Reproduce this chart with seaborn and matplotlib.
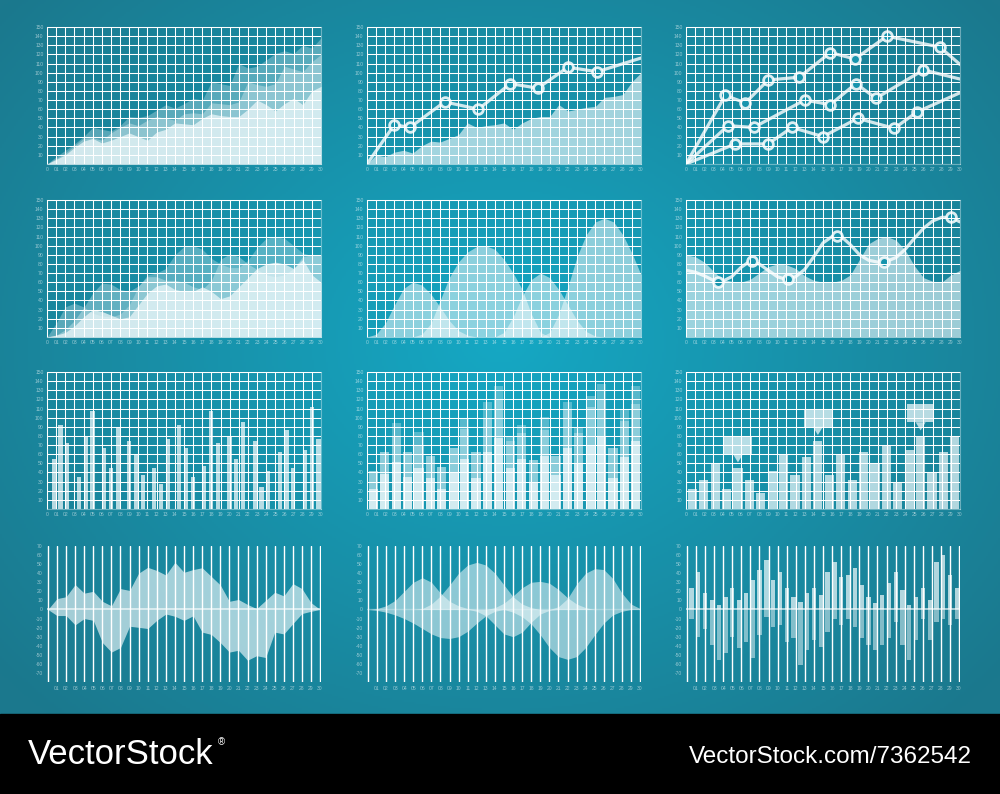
import numpy as np
import seaborn as sns
import matplotlib.pyplot as plt
from matplotlib.patches import Rectangle, Polygon

sns.set_style("white")
plt.rcParams['font.family'] = ['Liberation Sans', 'DejaVu Sans']

W, H = 1000, 794
x31 = np.arange(31)

# ---------------- data ----------------
# panel 1: three overlapping jagged areas
p1_back = [0, 8, 15, 22, 30, 40, 38, 36, 42, 52, 51, 53, 59, 65, 61, 66, 72, 70, 90, 88, 86,
           110, 105, 107, 114, 121, 124, 121, 130, 127, 138]
p1_mid = [0, 6, 12, 20, 28, 29, 26, 34, 40, 45, 42, 48, 52, 50, 48, 55, 56, 55, 67, 66, 65,
          68, 90, 87, 85, 88, 107, 104, 101, 112, 120]
p1_front = [0, 5, 10, 18, 25, 28, 23, 26, 30, 34, 30, 26, 35, 38, 45, 44, 43, 50, 55, 53, 52,
            52, 60, 70, 65, 58, 66, 72, 65, 80, 85]

# panel 2: area + marked line
p2_area = [0, 10, 8, 13, 15, 12, 20, 25, 24, 28, 32, 45, 40, 42, 43, 45, 38, 45, 50, 52, 52,
           65, 58, 60, 62, 63, 73, 74, 76, 90, 100]
p2_line_x = [0, 3, 4.7, 8.5, 12.2, 15.7, 18.7, 22, 25.2, 30]
p2_line_y = [0, 43, 40, 68, 60, 88, 83, 106, 101, 116]

# panel 3: three marked lines from the origin
p3_top_x = [0, 4.3, 6.5, 9.0, 12.4, 15.8, 18.5, 22.0, 27.8, 30]
p3_top_y = [0, 75, 67, 92, 95, 122, 115, 140, 128, 109]
p3_mid_x = [0, 4.6, 7.4, 13.0, 15.8, 18.6, 20.8, 26.0, 30]
p3_mid_y = [0, 42, 40, 70, 65, 88, 72, 103, 93]
p3_low_x = [0, 5.4, 9.0, 11.6, 15.0, 18.8, 22.8, 25.3, 30]
p3_low_y = [0, 22, 22, 40, 30, 50, 39, 57, 78]

# panel 4: three overlapping smooth areas
p4_back = [0, 15, 33, 37, 33, 26, 23, 22, 25, 35, 55, 68, 70, 75, 90, 99, 100, 96, 86, 80, 76,
           76, 84, 98, 108, 110, 108, 100, 92, 89, 90]
p4_mid = [0, 2, 8, 18, 32, 48, 59, 58, 52, 50, 56, 66, 66, 62, 62, 60, 55, 52, 62, 85, 91,
          88, 80, 74, 68, 66, 68, 75, 88, 90, 90]
p4_front = [0, 2, 5, 12, 22, 30, 28, 24, 20, 22, 35, 48, 56, 58, 52, 50, 50, 55, 50, 42, 45,
            55, 65, 75, 80, 82, 80, 75, 85, 68, 60]

# panel 5: four bell humps
p5_hump1 = [0, 3, 15, 35, 53, 60, 57, 47, 33, 18, 7, 2, 0] + [0] * 18
p5_hump2 = [0] * 5 + [0, 3, 15, 40, 65, 82, 93, 99, 100, 96, 85, 70, 52, 25, 5, 0] + [0] * 10
p5_hump3 = [0] * 14 + [0, 5, 22, 45, 63, 70, 65, 52, 35, 18, 6, 1, 0] + [0] * 4
p5_hump4 = [0] * 19 + [0, 5, 25, 55, 88, 112, 126, 130, 126, 112, 92, 68]

# panel 6: wavy area + marked wavy line
p6_area = [90, 88, 82, 72, 63, 61, 60, 63, 70, 77, 80, 79, 75, 67, 62, 60, 60, 62, 68, 85, 102,
           108, 110, 106, 95, 78, 65, 61, 60, 68, 73]
p6_line = [73, 71, 67, 62, 61, 66, 76, 83, 80, 73, 66, 63, 66, 74, 88, 103, 110, 110, 101, 90, 84,
           82, 83, 87, 96, 108, 119, 127, 131, 131, 126]
p6_mark_x = [3.5, 7.2, 11.2, 16.5, 21.7, 29]
p6_mark_y = [60, 83, 63, 111, 82, 131]

# panel 7: thin bars in groups of three
p7_bars = [55, 92, 72, 35, 80, 107, 67, 45, 90, 75, 60, 37, 45, 27, 77, 92, 67, 35, 47, 107, 72,
           80, 55, 95, 75, 24, 42, 62, 87, 45, 65, 112, 77]

# panel 8: three-tone overlapping bars
p8_hi = [42, 62, 94, 62, 84, 58, 46, 67, 100, 62, 117, 135, 80, 92, 54, 101, 58, 117, 90, 124,
         137, 67, 110, 135]
p8_mid = [42, 62, 80, 62, 70, 58, 46, 67, 88, 62, 100, 120, 75, 83, 54, 87, 58, 108, 83, 112,
          120, 67, 96, 115]
p8_lo = [22, 38, 52, 35, 45, 34, 22, 41, 55, 34, 62, 78, 45, 55, 30, 58, 37, 67, 50, 70, 80, 34,
         57, 75]

# panel 9: bars with callouts
p9_bars = [22, 32, 50, 22, 45, 32, 17.5, 42, 60, 37, 57, 75, 37, 60, 32, 62, 50, 70, 30, 65, 80,
           40, 62, 80]
p9_callouts = [4, 11, 20]

# panel 10: mirrored jagged areas
p10_up = [0, 12, 14, 27.5, 18, 20, 9, 4, 23, 21, 40, 46.5, 43, 38, 52, 41, 44, 46, 36.5, 27, 9,
          11, 5.5, 1, 10, 19, 15, 28.5, 23, 7.5, 0]
p10_down = [0, -6.7, -6.7, -17, -10, -12, -36.5, -47, -42, -18.5, -19.7, -21, -12, -5, -7.5, -12,
            -7, -25, -27.5, -36.5, -47, -45, -56, -51, -53, -25, -27, -15.6, -4.5, -2, 0]

# panel 11: humps above and below zero
p11_up1 = [0, 1, 4, 10, 20, 30, 35, 30, 18, 9, 4, 1, 0] + [0] * 18
p11_up2 = [0] * 5 + [0, 1, 6, 15, 27, 40, 49, 52, 49, 40, 27, 14, 6, 2, 0] + [0] * 11
p11_up3 = [0] * 13 + [0, 2, 7, 15, 24, 30, 31, 29, 22, 13, 6, 2, 0] + [0] * 5
p11_up4 = [0] * 20 + [0, 3, 12, 28, 40, 45, 44, 34, 18, 6, 1]
p11_dn1 = [0, -1, -3, -6, -10, -15, -21, -27, -31, -32, -30, -24, -15, -7, -2, 0] + [0] * 15
p11_dn2 = [0] * 11 + [0, -2, -7, -17, -27, -30, -25, -14, -5, -1, 0] + [0] * 9
p11_dn3 = [0] * 15 + [0, -3, -8, -16, -28, -42, -52, -55, -52, -42, -28, -15, -6, -2, 0, 0]

# panel 12: bars crossing zero
p12_top = [24, 41, 18.6, 10.4, 5, 13.4, 24, 10.4, 18.6, 32.7, 44, 55, 32.7, 41, 24, 13.4, 7.8,
           18.6, 24, 15.6, 41, 52, 35.3, 38, 46, 26.8, 13.4, 7.4, 16, 29.7, 41, 21.6, 5, 13.4,
           24, 10.4, 52, 60, 38, 24]
p12_bot = [-11, -30, -22, -39, -56, -47.6, -30, -42, -36.4, -53, -28, -8.6, -19.7, -17.5, -36,
           -31, -61, -44.6, -33.5, -41.6, -25, -11, -17, -11, -19.7, -31, -39, -44.6, -39, -31,
           -14, -39, -56, -33.5, -11, -33.5, -14, -11, -16.7, -11]

# ---------------- style ----------------
WHITE = '#eef8fa'
GRID = (1, 1, 1, 0.36)
LABEL = (1, 1, 1, 0.55)
HOLLOW = '#1794ad'

fig = plt.figure(figsize=(10, 7.94), dpi=100)

# background radial gradient + black footer
bg = fig.add_axes([0, 0, 1, 1], zorder=-10)
yy, xx = np.mgrid[0:H:2, 0:W:2]
r = np.clip(np.sqrt(((xx - 500) / 650.0) ** 2 + ((yy - 340) / 520.0) ** 2), 0, 1)
c0 = np.array([21, 168, 196]) / 255.0
c1 = np.array([27, 120, 141]) / 255.0
bg.imshow(c0 + (c1 - c0) * r[..., None], extent=[0, W, H, 0], aspect='auto')
bg.add_patch(Rectangle((0, 714), W, 80, color='black'))
bg.set_xlim(0, W)
bg.set_ylim(H, 0)
bg.axis('off')

fig.text(28 / W, 1 - 754 / H, 'VectorStock', fontsize=25, color='white', va='center')
fig.text(218 / W, 1 - 742 / H, '®', fontsize=7, color='white', va='center')
fig.text(972 / W, 1 - 757 / H, 'VectorStock.com/7362542', fontsize=17.5, color='white',
         va='center', ha='right')

cols = [47, 367, 686]
rows = [27, 200, 372]
PW, PH = 274, 137


def add_panel(left, top, width, height):
    ax = fig.add_axes([left / W, 1 - (top + height) / H, width / W, height / H])
    ax.set_facecolor('none')
    return ax


def grid_panel(col, row):
    ax = add_panel(cols[col], rows[row], PW, PH)
    ax.set_xlim(0, 30)
    ax.set_ylim(0, 150)
    ax.set_xticks(x31)
    ax.set_xticklabels(['0'] + [f'{i:02d}' for i in range(1, 31)])
    ax.set_yticks(np.arange(0, 151, 10))
    ax.set_yticklabels([''] + [str(v) for v in range(10, 151, 10)])
    ax.grid(True, color=GRID, lw=0.75)
    ax.set_axisbelow(False)
    ax.tick_params(length=0, labelsize=3.6, labelcolor=LABEL, pad=2.5)
    for s in ax.spines.values():
        s.set_color(GRID)
        s.set_linewidth(0.8)
    return ax


def wave_panel(col):
    ax = add_panel(cols[col], 546, PW, 136)
    ax.set_xlim(-0.1, 30.1)
    ax.set_ylim(-80, 70)
    ax.set_xticks(x31)
    ax.set_xticklabels([''] + [f'{i:02d}' for i in range(1, 31)])
    ax.set_yticks(np.arange(-70, 71, 10))
    ax.set_yticklabels([str(v) for v in range(-70, 71, 10)])
    ax.grid(True, axis='x', color=(1, 1, 1, 0.42), lw=1.0)
    ax.grid(False, axis='y')
    ax.set_axisbelow(False)
    ax.tick_params(length=0, labelsize=3.6, labelcolor=LABEL, pad=3)
    for s in ax.spines.values():
        s.set_visible(False)
    return ax


def marked_line(ax, xs, ys, inner=True):
    sns.lineplot(x=xs, y=ys, ax=ax, color='white', alpha=0.8, lw=2.3, sort=False,
                 estimator=None)
    mx, my = (xs[1:-1], ys[1:-1]) if inner else (xs, ys)
    ax.plot(mx, my, 'o', ms=7, mfc=HOLLOW, mec=(1, 1, 1, 0.85), mew=2.0)


# ---- row 1 ----
ax = grid_panel(0, 0)
ax.fill_between(x31, p1_back, color=WHITE, alpha=0.3, lw=0)
ax.fill_between(x31, p1_mid, color=WHITE, alpha=0.35, lw=0)
ax.fill_between(x31, p1_front, color=WHITE, alpha=0.72, lw=0)

ax = grid_panel(1, 0)
ax.fill_between(x31, p2_area, color=WHITE, alpha=0.65, lw=0)
marked_line(ax, p2_line_x, p2_line_y)

ax = grid_panel(2, 0)
marked_line(ax, p3_top_x, p3_top_y)
marked_line(ax, p3_mid_x, p3_mid_y)
marked_line(ax, p3_low_x, p3_low_y)

# ---- row 2 ----
ax = grid_panel(0, 1)
ax.fill_between(x31, p4_back, color=WHITE, alpha=0.3, lw=0)
ax.fill_between(x31, p4_mid, color=WHITE, alpha=0.35, lw=0)
ax.fill_between(x31, p4_front, color=WHITE, alpha=0.72, lw=0)

ax = grid_panel(1, 1)
for hump in (p5_hump1, p5_hump2, p5_hump3, p5_hump4):
    ax.fill_between(x31, hump, color=WHITE, alpha=0.55, lw=0)

ax = grid_panel(2, 1)
ax.fill_between(x31, p6_area, color=WHITE, alpha=0.62, lw=0)
sns.lineplot(x=x31, y=p6_line, ax=ax, color='white', alpha=0.8, lw=2.3)
ax.plot(p6_mark_x, p6_mark_y, 'o', ms=7, mfc=HOLLOW, mec=(1, 1, 1, 0.85), mew=2.0)

# ---- row 3 ----
ax = grid_panel(0, 2)
g = np.arange(len(p7_bars))
p7_x = 0.73 + 2.75 * (g // 3) + 0.75 * (g % 3)
ax.bar(p7_x, p7_bars, width=0.45, color=WHITE, alpha=0.75, lw=0)

ax = grid_panel(1, 2)
p8_x = 0.69 + 1.25 * np.arange(len(p8_hi))
ax.bar(p8_x, p8_hi, width=1.0, color=WHITE, alpha=0.3, lw=0)
ax.bar(p8_x, p8_mid, width=1.0, color=WHITE, alpha=0.35, lw=0)
ax.bar(p8_x, p8_lo, width=1.0, color=WHITE, alpha=0.72, lw=0)

ax = grid_panel(2, 2)
p9_x = 0.69 + 1.25 * np.arange(len(p9_bars))
ax.bar(p9_x, p9_bars, width=1.0, color=WHITE, alpha=0.72, lw=0)
for i in p9_callouts:
    cx, h = p9_x[i], p9_bars[i]
    ax.add_patch(Rectangle((cx - 1.5, h + 15), 3.0, 20, color=WHITE, alpha=0.75, lw=0))
    ax.add_patch(Polygon([(cx - 0.55, h + 15), (cx + 0.55, h + 15), (cx, h + 6)],
                         closed=True, color=WHITE, alpha=0.75, lw=0))

# ---- row 4 ----
ax = wave_panel(0)
ax.fill_between(x31, p10_up, color=WHITE, alpha=0.65, lw=0)
ax.fill_between(x31, p10_down, color=WHITE, alpha=0.65, lw=0)
ax.axhline(0, color='white', alpha=0.7, lw=1.2)

ax = wave_panel(1)
for hump in (p11_up1, p11_up2, p11_up3, p11_up4, p11_dn1, p11_dn2, p11_dn3):
    ax.fill_between(x31, hump, color=WHITE, alpha=0.55, lw=0)
ax.axhline(0, color='white', alpha=0.3, lw=1.0)

ax = wave_panel(2)
p12_x = 0.51 + 0.75 * np.arange(len(p12_top))
ax.bar(p12_x, p12_top, width=0.47, color=WHITE, alpha=0.72, lw=0)
ax.bar(p12_x, p12_bot, width=0.47, color=WHITE, alpha=0.5, lw=0)
ax.axhline(0, color='white', alpha=0.7, lw=1.2)

fig.savefig('out.png', dpi=100)
